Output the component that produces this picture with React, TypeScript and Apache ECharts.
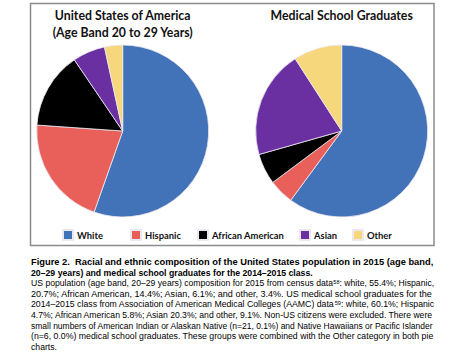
import React, { useEffect, useRef } from "react";
import * as echarts from "echarts";

const categories = ["White", "Hispanic", "African American", "Asian", "Other"];
const usValues = [55.4, 20.7, 14.4, 6.1, 3.4];
const gradValues = [60.1, 4.7, 5.8, 20.3, 9.1];
const sliceColors = ["#4273B8", "#E9605A", "#000000", "#6A2FA0", "#F6D77C"];
const pieTitles = ["United States of America\n(Age Band 20 to 29 Years)", "Medical School Graduates"];

type Seg = { t: string; s: "fig" | "b" | "n" | "sup" };
const captionLines: Seg[][] = [
  [{ t: "Figure 2.", s: "fig" }, { t: "  Racial and ethnic composition of the United States population in 2015 (age band,", s: "b" }],
  [{ t: "20\u201329 years) and medical school graduates for the 2014\u20132015 class.", s: "b" }],
  [{ t: "US population (age band, 20\u201329 years) composition for 2015 from census data", s: "n" }, { t: "58", s: "sup" }, { t: ": white, 55.4%; Hispanic,", s: "n" }],
  [{ t: "20.7%; African American, 14.4%; Asian, 6.1%; and other, 3.4%. US medical school graduates for the", s: "n" }],
  [{ t: "2014\u20132015 class from Association of American Medical Colleges (AAMC) data", s: "n" }, { t: "59", s: "sup" }, { t: ": white, 60.1%; Hispanic", s: "n" }],
  [{ t: "4.7%; African American 5.8%; Asian 20.3%; and other, 9.1%. Non-US citizens were excluded. There were", s: "n" }],
  [{ t: "small numbers of American Indian or Alaskan Native (n=21, 0.1%) and Native Hawaiians or Pacific Islander", s: "n" }],
  [{ t: "(n=6, 0.0%) medical school graduates. These groups were combined with the Other category in both pie", s: "n" }],
  [{ t: "charts.", s: "n" }],
];
const captionLineY = [262, 272.6, 283.2, 293.8, 304.4, 315, 325.6, 336.2, 346.8];
const captionTargetW = [403, 282, 403, 403, 403, 403, 403, 403, 26];
const legendLeft = [62, 130, 197, 299, 352];

const CAP_FONT = '"Liberation Sans", Arial, sans-serif';
const CAP_SIZE = 9.3;
const fontFor: Record<string, string> = {
  fig: `bold ${CAP_SIZE}px ${CAP_FONT}`,
  b: `bold ${CAP_SIZE}px ${CAP_FONT}`,
  n: `${CAP_SIZE}px ${CAP_FONT}`,
  sup: `6px ${CAP_FONT}`,
};

function measureLine(segs: Seg[]): number {
  const c = document.createElement("canvas");
  const ctx = c.getContext("2d");
  if (!ctx) return 0;
  let w = 0;
  for (const seg of segs) {
    ctx.font = fontFor[seg.s];
    w += ctx.measureText(seg.t).width;
  }
  return w;
}

export default function App() {
  const ref = useRef<HTMLDivElement>(null);
  useEffect(() => {
    if (!ref.current) return;
    const chart = echarts.init(ref.current, undefined, { renderer: "svg" });
    const rich = {
      fig: { fontFamily: CAP_FONT, fontSize: CAP_SIZE, fontWeight: "bold", color: "#B0303C" },
      b: { fontFamily: CAP_FONT, fontSize: CAP_SIZE, fontWeight: "bold", color: "#151515" },
      n: { fontFamily: CAP_FONT, fontSize: CAP_SIZE, color: "#3a3a3a" },
      sup: { fontFamily: CAP_FONT, fontSize: 6, color: "#3a3a3a", verticalAlign: "top" },
    };
    const captionGraphics = captionLines.map((segs, i) => {
      const w = measureLine(segs);
      const sx = w > 0 ? captionTargetW[i] / w : 1;
      return {
        type: "text",
        x: 31,
        y: captionLineY[i],
        scaleX: sx,
        style: {
          text: segs.map((sg) => `{${sg.s}|${sg.t}}`).join(""),
          rich,
          verticalAlign: "middle",
          align: "left",
        },
      };
    });
    const pieData = (vals: number[]) =>
      categories.map((name, i) => ({ name, value: vals[i], itemStyle: { color: sliceColors[i] } }));
    const titleStyle = {
      fontFamily: "Lato, sans-serif",
      fontWeight: "bold" as const,
      fontSize: 12.3,
      lineHeight: 17,
      color: "#111",
    };
    const legends = categories.map((name, i) => ({
      data: [name],
      left: legendLeft[i],
      top: 229,
      padding: 0,
      itemWidth: 10,
      itemHeight: 10,
      icon: "rect",
      selectedMode: false,
      textStyle: {
        fontFamily: "Lato, sans-serif",
        fontWeight: "bold",
        fontSize: 9.4,
        color: "#111",
        padding: [0, 0, 0, -1],
      },
    }));
    chart.setOption({
      animation: false,
      backgroundColor: "#ffffff",
      title: [
        { text: pieTitles[0], left: 122.7, top: 6.5, textAlign: "center", padding: 0, textStyle: titleStyle },
        { text: pieTitles[1], left: 341.7, top: 6.5, textAlign: "center", padding: 0, textStyle: titleStyle },
      ],
      legend: legends,
      series: [
        {
          type: "pie",
          center: [122.7, 131],
          radius: 86,
          startAngle: 90,
          clockwise: true,
          label: { show: false },
          labelLine: { show: false },
          emphasis: { disabled: true },
          itemStyle: { borderColor: "#ece8f2", borderWidth: 0.8 },
          data: pieData(usValues),
        },
        {
          type: "pie",
          center: [341.7, 131],
          radius: 86,
          startAngle: 90,
          clockwise: true,
          label: { show: false },
          labelLine: { show: false },
          emphasis: { disabled: true },
          itemStyle: { borderColor: "#ece8f2", borderWidth: 0.8 },
          data: pieData(gradValues),
        },
      ],
      graphic: [
        {
          type: "rect",
          shape: { x: 30.5, y: 3.5, width: 403.5, height: 242 },
          style: { fill: "none", stroke: "#8c8c8c", lineWidth: 1.5 },
          z: -1,
        },
        ...captionGraphics,
      ],
    });
    return () => chart.dispose();
  }, []);
  return <div ref={ref} style={{ position: "absolute", left: 0, top: 0, width: 474, height: 358 }} />;
}
